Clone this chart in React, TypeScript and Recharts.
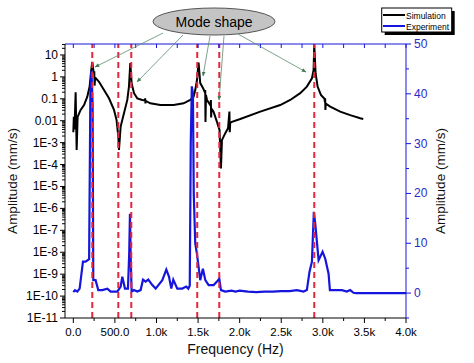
import { Label, Line, LineChart, ReferenceLine, XAxis, YAxis } from "recharts";

// simulated response (mm/s, log axis)
const simFreq = [
	0, 6, 14, 28, 40, 52, 88, 129, 168, 196, 215, 228, 245, 252, 256, 262, 309, 369, 429, 489, 520, 541, 549,
	569, 609, 649, 669, 685, 701, 730, 769, 829, 860, 864, 867, 872, 926, 1046, 1206, 1326, 1406, 1446, 1466,
	1487, 1506, 1526, 1559, 1582, 1586, 1589, 1595, 1607, 1650, 1654, 1657, 1662, 1686, 1727, 1758, 1775, 1787,
	1827, 1860, 1877, 1881, 1886, 1907, 2007, 2248, 2488, 2608, 2728, 2808, 2869, 2889, 2897, 2913, 2937, 2977,
	3020, 3025, 3028, 3031, 3035, 3089, 3209, 3329, 3450, 3486,
];
const simAmp = [
	0.003, 0.015, 0.004, 0.2, 0.00046, 0.015, 0.031, 0.052, 0.125, 0.36, 2.0, 4.8, 1.5, 1.8, 0.4, 0.95, 0.6, 0.25,
	0.105, 0.031, 0.0107, 0.0019, 0.00046, 0.0054, 0.022, 0.089, 0.36, 4.3, 0.51, 0.18, 0.105, 0.088, 0.085, 0.105,
	0.062, 0.08, 0.062, 0.052, 0.052, 0.062, 0.088, 0.125, 0.25, 0.72, 4.5, 0.52, 0.31, 0.2, 0.25, 0.0088, 0.15,
	0.088, 0.05, 0.088, 0.014, 0.035, 0.026, 0.0089, 0.0038, 0.000066, 0.0013, 0.0027, 0.0045, 0.026, 0.003, 0.008,
	0.0089, 0.012, 0.026, 0.052, 0.088, 0.18, 0.36, 0.86, 2.07, 30, 1.46, 0.36, 0.15, 0.1, 0.07, 0.105, 0.031, 0.06,
	0.044, 0.026, 0.018, 0.013, 0.012,
];

// measured response (mm/s, linear right axis)
const expFreq = [
	0, 20, 48, 76, 116, 148, 190, 205, 218, 232, 240, 268, 300, 349, 409, 449, 529, 569, 589, 621, 657, 672, 681,
	690, 701, 729, 769, 809, 838, 869, 901, 950, 990, 1070, 1118, 1150, 1178, 1202, 1250, 1310, 1358, 1382, 1400,
	1412, 1425, 1438, 1448, 1466, 1486, 1506, 1526, 1558, 1587, 1627, 1687, 1727, 1755, 1775, 1827, 1900, 1950,
	2000, 2050, 2100, 2200, 2300, 2400, 2500, 2600, 2688, 2768, 2808, 2840, 2869, 2892, 2909, 2949, 2997, 3029,
	3069, 3085, 3129, 3229, 3289, 3329, 3369, 3400, 4000,
];
const expAmp = [
	0.2, 0.6, 0.3, 0.9, 6.3, 6.3, 6.8, 40, 44.6, 38, 2.6, 2.6, 0.6, 0.6, 0.9, 0.3, 0.3, 1.3, 3.3, 0.9, 0.9, 8, 15.9,
	7, 0.3, 0.6, 0.3, 0.6, 2.7, 2.3, 2.7, 1.6, 0.9, 2.6, 4.7, 3.3, 0.9, 2.7, 0.9, 0.9, 1.3, 0.9, 1.5, 30, 41.5, 40,
	20, 10, 7.9, 5.3, 2.6, 4.9, 2.6, 1.6, 1.6, 2.3, 2.9, 0.6, 0.3, 0.5, 0.3, 0.5, 0.4, 0.3, 0.2, 0.3, 0.3, 0.4, 0.4,
	0.6, 0.3, 0.6, 4.3, 6.3, 16.3, 13.9, 6.6, 8.3, 6.9, 3.9, 0.6, 0.6, 0.6, 0.3, 0.6, 0.06, 0, 0,
];

// mode frequencies marked by dashed lines
const modeFreqs = [228, 541, 697, 1490, 1755, 2897];

const xMajor = [0, 500, 1000, 1500, 2000, 2500, 3000, 3500, 4000];
const xLabels = ["0.0", "500.0", "1.0k", "1.5k", "2.0k", "2.5k", "3.0k", "3.5k", "4.0k"];
const xMinor = [250, 750, 1250, 1750, 2250, 2750, 3250, 3750];

const leftExp = [-11, -10, -9, -8, -7, -6, -5, -4, -3, -2, -1, 0, 1];
const leftLabels = ["1E-11", "1E-10", "1E-9", "1E-8", "1E-7", "1E-6", "1E-5", "1E-4", "1E-3", "0.01", "0.1", "1", "10"];

const rightMajor = [0, 10, 20, 30, 40, 50];
const rightMinor = [-5, 5, 15, 25, 35, 45];

const BLUE = "#1515dd";
const RED = "#e3283c";
const FONT = "'Liberation Sans', Arial, sans-serif";

const simData = simFreq.map((f, i) => ({ f, amp: simAmp[i] }));
const expData = expFreq.map((f, i) => ({ f, amp: expAmp[i] }));

const leftMajor = leftExp.map((e) => Math.pow(10, e));
const leftMinor: number[] = [];
leftExp.forEach((e) => {
	for (let m = 2; m <= 9; m++) {
		const v = m * Math.pow(10, e);
		if (v < 31) leftMinor.push(v);
	}
});
const leftLabelOf = new Map(leftMajor.map((v, i) => [v, leftLabels[i]]));
const xTicks = [...xMajor, ...xMinor].sort((a, b) => a - b);
const rightTicks = [...rightMajor, ...rightMinor].sort((a, b) => a - b);

function LeftTick({ x, y, payload }: any) {
	const lab = leftLabelOf.get(payload.value);
	return (
		<g>
			<line x1={x - (lab ? 5 : 3)} x2={x} y1={y} y2={y} stroke="#000" strokeWidth={1} />
			{lab && (
				<text x={x - 7} y={y + 4} textAnchor="end" fontSize={12} fill="#000" fontFamily={FONT}>
					{lab}
				</text>
			)}
		</g>
	);
}

function RightTick({ x, y, payload }: any) {
	const v = payload.value;
	const major = rightMajor.includes(v);
	return (
		<g>
			<line x1={x} x2={x + (major ? 5 : 3)} y1={y} y2={y} stroke={BLUE} strokeWidth={1} />
			{major && (
				<text x={x + 8} y={y + 4} textAnchor="start" fontSize={12} fill="#2a2ac8" fontFamily={FONT}>
					{v}
				</text>
			)}
		</g>
	);
}

function BottomTick({ x, y, payload }: any) {
	const idx = xMajor.indexOf(payload.value);
	return (
		<g>
			<line x1={x} x2={x} y1={y} y2={y + (idx >= 0 ? 5 : 3)} stroke="#000" strokeWidth={1} />
			{idx >= 0 && (
				<text x={x} y={y + 18} textAnchor="middle" fontSize={11.5} fill="#000" fontFamily={FONT}>
					{xLabels[idx]}
				</text>
			)}
		</g>
	);
}

function TopTick({ x, y }: any) {
	return <line x1={x} x2={x} y1={y} y2={y + 4} stroke={BLUE} strokeWidth={1} />;
}

// rotated axis title centred on the axis band
function VTitle({ viewBox, cx }: any) {
	const cy = viewBox.y + viewBox.height / 2;
	return (
		<text
			x={cx}
			y={cy}
			transform={`rotate(-90, ${cx}, ${cy})`}
			textAnchor="middle"
			dy="0.36em"
			fontSize={13.5}
			fill="#111"
			fontFamily={FONT}
		>
			Amplitude (mm/s)
		</text>
	);
}

export default function App() {
	return (
		<div
			style={{
				position: "relative",
				width: 474,
				height: 363,
				background: "#fff",
				fontFamily: FONT,
			}}
		>
			<style>{"html, body { margin: 0; padding: 0; overflow: hidden; }"}</style>
			<LineChart width={474} height={363} margin={{ top: 43, right: 0, bottom: 0, left: 0 }}>
				<XAxis
					xAxisId="bottom"
					dataKey="f"
					type="number"
					domain={[-100, 4000]}
					allowDataOverflow
					ticks={xTicks}
					interval={0}
					tickSize={0}
					tickMargin={0}
					tick={<BottomTick />}
					stroke="#000"
					height={45}
				>
					<Label
						content={({ viewBox }: any) => (
							<text
								x={viewBox.x + viewBox.width / 2}
								y={viewBox.y + 36}
								textAnchor="middle"
								fontSize={14}
								fill="#111"
								fontFamily={FONT}
							>
								Frequency (Hz)
							</text>
						)}
					/>
				</XAxis>
				<XAxis
					xAxisId="top"
					orientation="top"
					dataKey="f"
					type="number"
					domain={[-100, 4000]}
					allowDataOverflow
					ticks={xTicks}
					interval={0}
					tickSize={0}
					tickMargin={0}
					tick={<TopTick />}
					stroke={BLUE}
					height={1}
				/>
				<YAxis
					yAxisId="left"
					scale="log"
					domain={[1e-11, 31.6]}
					allowDataOverflow
					ticks={[...leftMajor, ...leftMinor]}
					interval={0}
					tickSize={0}
					tickMargin={0}
					tick={<LeftTick />}
					stroke="#000"
					width={65}
				>
					<Label content={(p: any) => <VTitle viewBox={p.viewBox} cx={12} />} />
				</YAxis>
				<YAxis
					yAxisId="right"
					orientation="right"
					domain={[-5, 50]}
					allowDataOverflow
					ticks={rightTicks}
					interval={0}
					tickSize={0}
					tickMargin={0}
					tick={<RightTick />}
					stroke={BLUE}
					width={68}
				>
					<Label content={(p: any) => <VTitle viewBox={p.viewBox} cx={440} />} />
				</YAxis>
				<Line
					data={simData}
					dataKey="amp"
					xAxisId="bottom"
					yAxisId="left"
					type="linear"
					stroke="#000"
					strokeWidth={2}
					dot={false}
					isAnimationActive={false}
				/>
				<Line
					data={expData}
					dataKey="amp"
					xAxisId="bottom"
					yAxisId="right"
					type="linear"
					stroke={BLUE}
					strokeWidth={2.2}
					dot={false}
					isAnimationActive={false}
				/>
				{modeFreqs.map((f) => (
					<ReferenceLine
						key={f}
						x={f}
						xAxisId="bottom"
						yAxisId="left"
						stroke={RED}
						strokeWidth={2}
						strokeDasharray="6 4"
					/>
				))}
			</LineChart>
			<svg width={474} height={363} style={{ position: "absolute", left: 0, top: 0, pointerEvents: "none" }}>
				<defs>
					<marker id="arr" viewBox="0 0 10 10" refX="9" refY="5" markerWidth="6" markerHeight="6" orient="auto">
						<path d="M0,1 L10,5 L0,9 z" fill="#3f7a55" />
					</marker>
				</defs>
				<ellipse cx={214} cy={21.5} rx={61} ry={13.5} fill="#c4c4c4" stroke="#555" strokeWidth={1} />
				<text x={214} y={26.5} textAnchor="middle" fontSize={14} fill="#000" fontFamily={FONT}>
					Mode shape
				</text>
				{[
					[163, 33, 95, 67],
					[183, 35, 137, 82],
					[210, 36, 203, 76],
					[224, 36, 219, 100],
					[238, 34, 306, 72],
				].map(([x1, y1, x2, y2], i) => (
					<line key={i} x1={x1} y1={y1} x2={x2} y2={y2} stroke="#5c8a6a" strokeWidth={0.8} markerEnd="url(#arr)" />
				))}
				<rect x={384.7} y={11} width={70} height={24} fill="#000" />
				<rect x={381.7} y={8} width={70} height={24} fill="#fff" stroke="#000" strokeWidth={1} />
				<line x1={383} x2={405} y1={15} y2={15} stroke="#000" strokeWidth={2} />
				<line x1={383} x2={405} y1={26} y2={26} stroke={BLUE} strokeWidth={2} />
				<text x={406} y={18.5} fontSize={8.5} fill="#000" fontFamily={FONT}>
					Simulation
				</text>
				<text x={406} y={29.5} fontSize={8.5} fill="#000" fontFamily={FONT}>
					Experiment
				</text>
			</svg>
		</div>
	);
}
